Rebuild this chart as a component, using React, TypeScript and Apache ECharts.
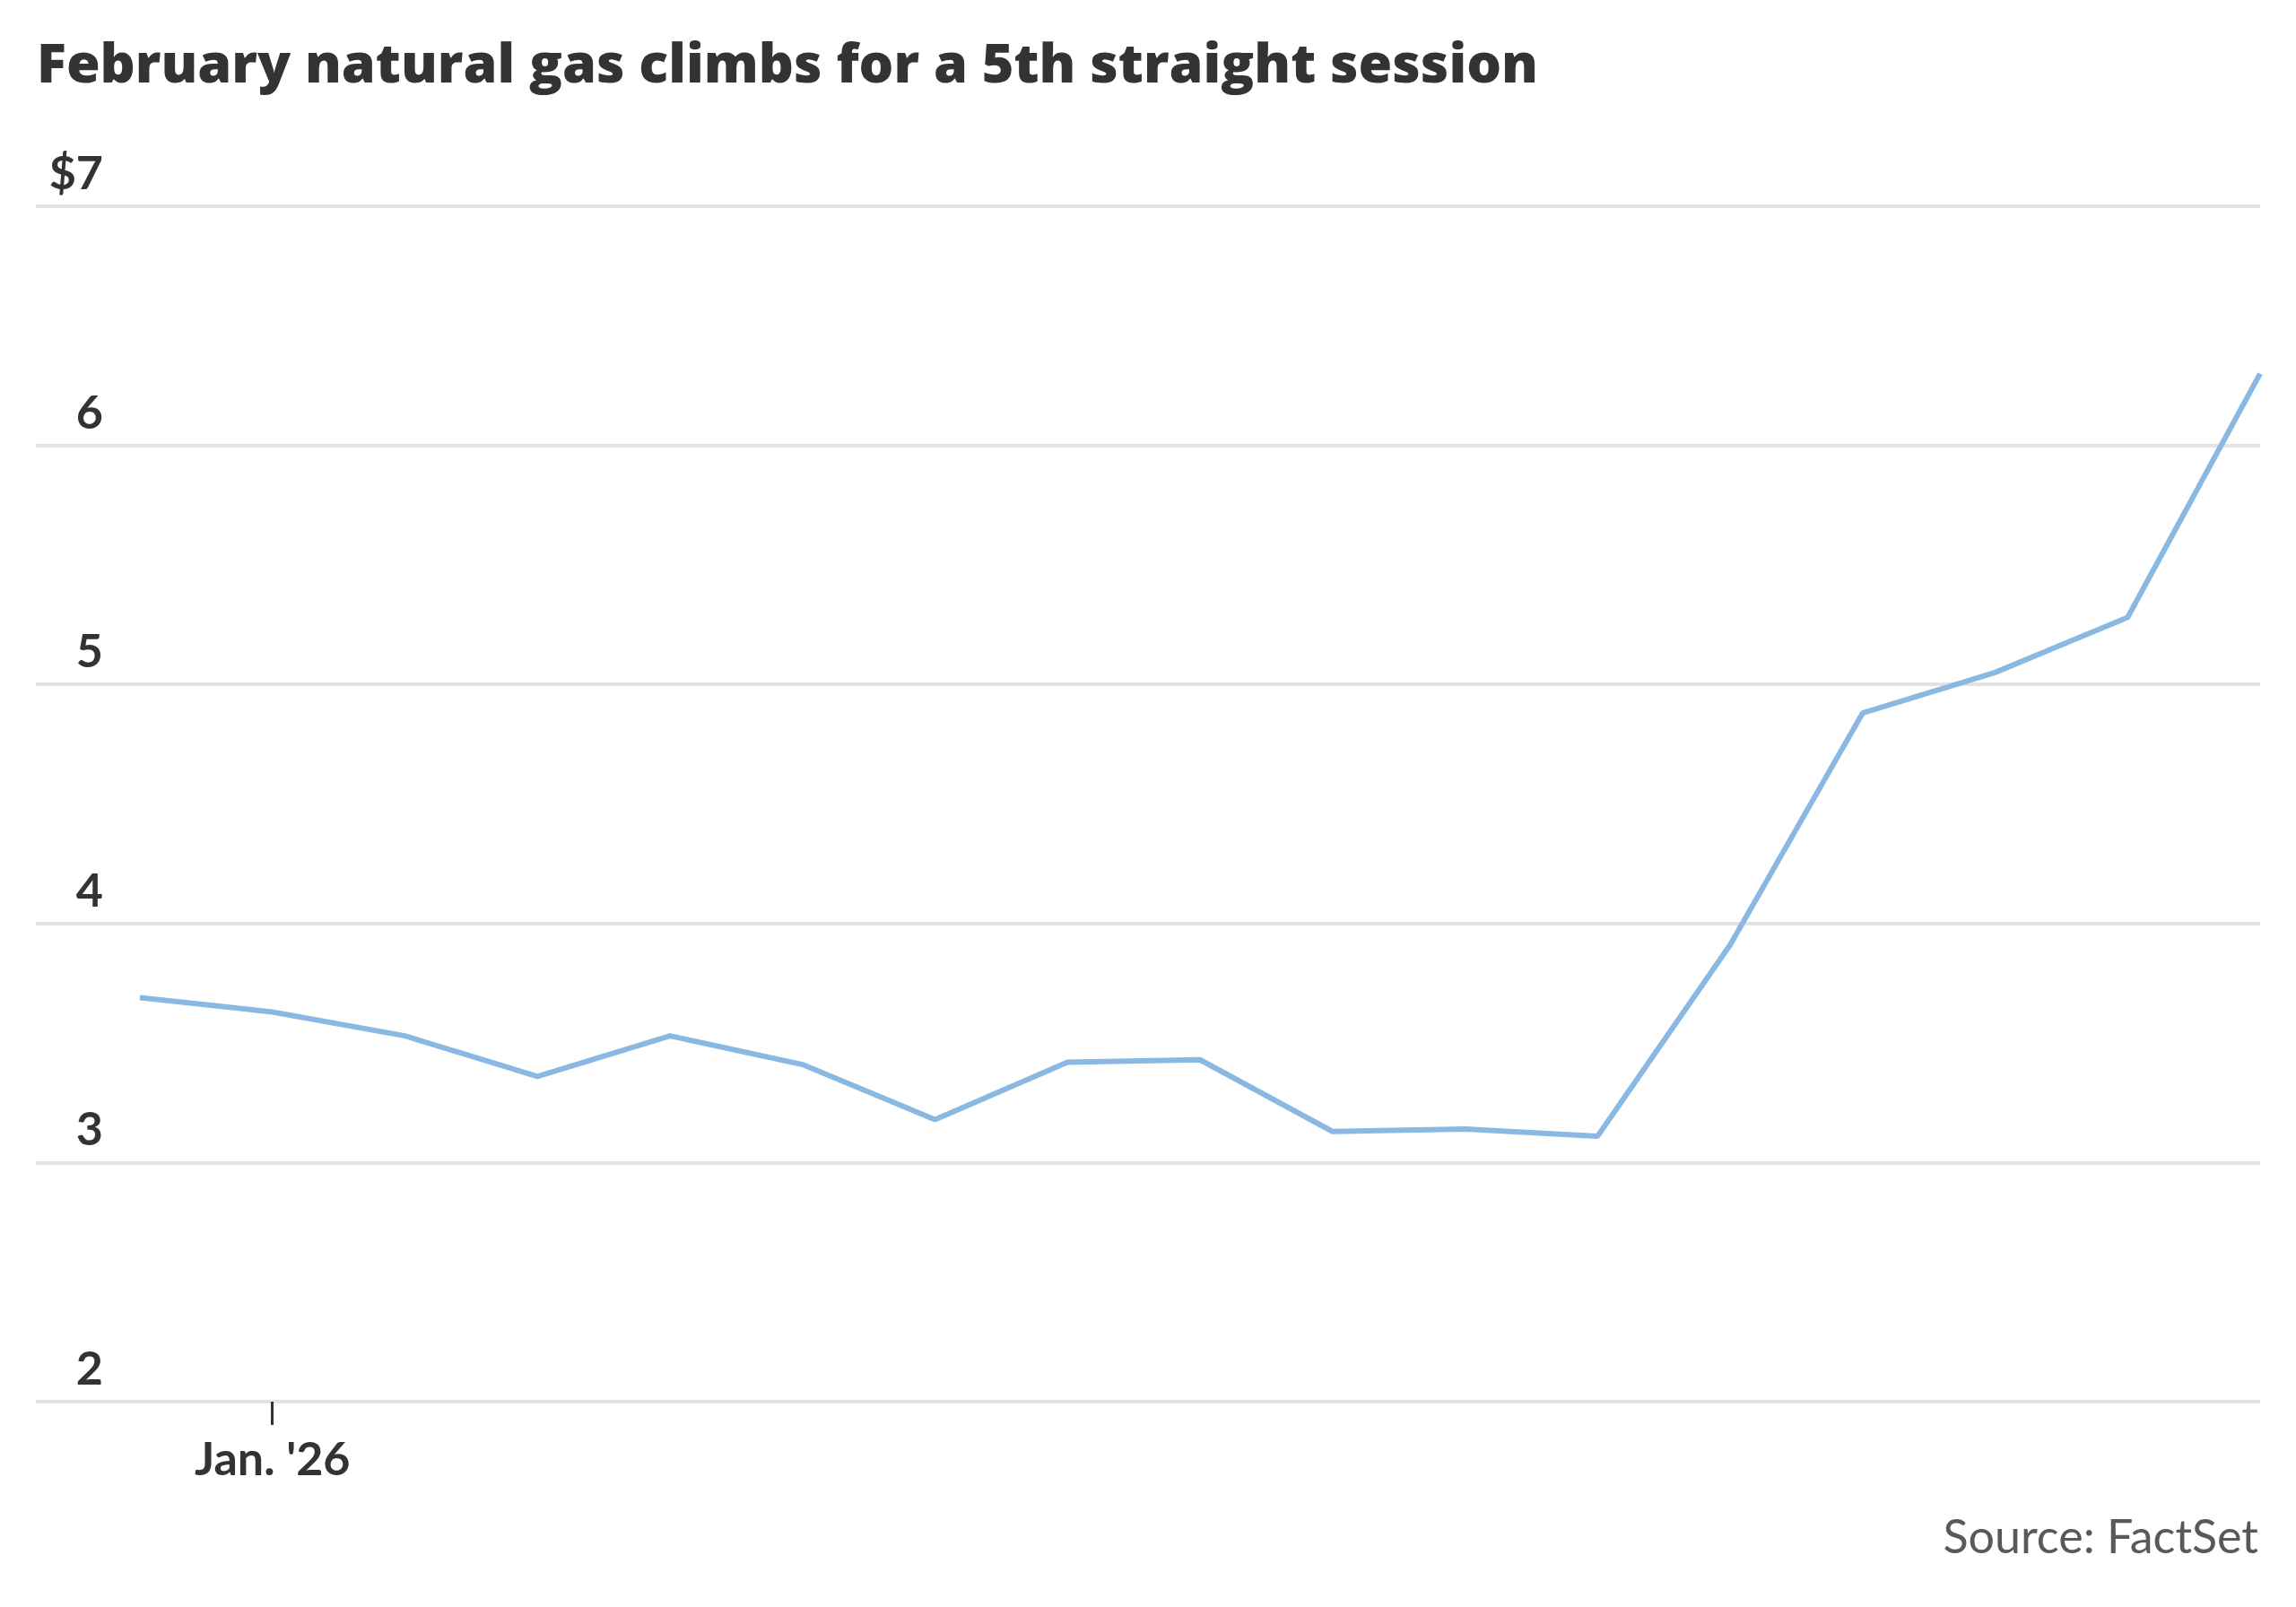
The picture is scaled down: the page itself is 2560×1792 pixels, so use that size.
import { useEffect, useRef } from 'react'
import * as echarts from 'echarts'

// trading sessions shown (Feb. contract settles)
const sessionDates = [
  '2025-12-31', '2026-01-02', '2026-01-05', '2026-01-06', '2026-01-07', '2026-01-08',
  '2026-01-09', '2026-01-12', '2026-01-13', '2026-01-14', '2026-01-15', '2026-01-16',
  '2026-01-20', '2026-01-21', '2026-01-22', '2026-01-23', '2026-01-26',
]
const settlePrices = [
  3.69, 3.63, 3.53, 3.36, 3.53, 3.41, 3.18, 3.42, 3.43, 3.13, 3.14, 3.11,
  3.91, 4.88, 5.05, 5.28, 6.3,
]
const xTickIndexes = [1]
const xTickLabels = ["Jan. '26"]
const yTicks = [2, 3, 4, 5, 6, 7]

const TITLE = 'February natural gas climbs for a 5th straight session'
const SOURCE = 'Source: FactSet'
const FONT = 'Lato, "Noto Sans", sans-serif'
const TITLE_FONT = '"Open Sans", "Noto Sans", sans-serif'

export default function App() {
  const chartRef = useRef<HTMLDivElement>(null)

  useEffect(() => {
    if (!chartRef.current) return
    const chart = echarts.init(chartRef.current, undefined, { renderer: 'svg' })

    const yMin = yTicks[0]
    const yMax = yTicks[yTicks.length - 1]

    const option: echarts.EChartsOption = {
      animation: false,
      backgroundColor: '#fff',
      title: [
        {
          text: TITLE,
          left: 41,
          top: 38,
          padding: 0,
          textStyle: {
            fontFamily: TITLE_FONT,
            fontWeight: 800,
            fontSize: 61,
            color: '#333333',
          },
        },
        {
          text: SOURCE,
          right: 42,
          top: 1686,
          padding: 0,
          textStyle: {
            fontFamily: FONT,
            fontWeight: 'normal',
            fontSize: 52,
            color: '#595959',
          },
        },
      ],
      grid: {
        left: 40,
        right: 40,
        top: 230,
        bottom: 229,
        containLabel: false,
      },
      xAxis: {
        type: 'value',
        min: -0.785,
        max: sessionDates.length - 1,
        axisLine: { show: false },
        splitLine: { show: false },
        axisTick: {
          show: true,
          customValues: xTickIndexes,
          length: 26,
          lineStyle: { color: '#333333', width: 3 },
        },
        axisLabel: {
          customValues: xTickIndexes,
          formatter: (v: number) => xTickLabels[xTickIndexes.indexOf(Math.round(v))] ?? '',
          margin: 36,
          fontFamily: FONT,
          fontWeight: 'bold',
          fontSize: 52,
          color: '#333333',
        },
      },
      yAxis: {
        type: 'value',
        min: yMin,
        max: yMax,
        interval: 1,
        axisLine: { show: false },
        axisTick: { show: false },
        splitLine: { lineStyle: { color: '#e3e3e3', width: 4 } },
        axisLabel: {
          formatter: (v: number) => (v === yMax ? '$' + v : String(v)),
          align: 'right',
          verticalAlign: 'bottom',
          lineHeight: 78,
          margin: -75,
          fontFamily: FONT,
          fontWeight: 'bold',
          fontSize: 52,
          color: '#333333',
        },
      },
      series: [
        {
          type: 'line',
          data: settlePrices.map((p, i) => [i, p]),
          symbol: 'none',
          lineStyle: { color: '#89b8e3', width: 6 },
          clip: false,
        },
      ],
    }

    chart.setOption(option)
    return () => {
      chart.dispose()
    }
  }, [])

  return (
    <div
      ref={chartRef}
      style={{ position: 'absolute', left: 0, top: 0, width: 2560, height: 1792 }}
    />
  )
}
